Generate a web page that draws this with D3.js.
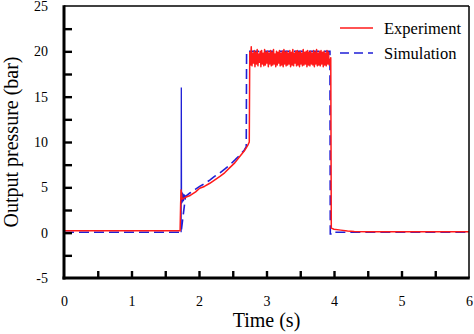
<!DOCTYPE html>
<html>
<head>
<meta charset="utf-8">
<script src="https://cdn.jsdelivr.net/npm/d3@7/dist/d3.min.js"></script>
<style>
  html, body { margin: 0; padding: 0; background: #fff; }
  svg { display: block; }
  svg text { font-family: "Liberation Serif", "Times New Roman", serif; }
</style>
</head>
<body>
<svg id="chart" width="474" height="334"></svg>
<script>
// Axis ranges and tick labels
const xDomain = [0, 6];
const yDomain = [-5, 25];
const xTickLabels = [0, 1, 2, 3, 4, 5, 6];
const yTickLabels = [-5, 0, 5, 10, 15, 20, 25];
const xMinorTicks = [0.5, 1, 1.5, 2, 2.5, 3, 3.5, 4, 4.5, 5, 5.5];
const yMinorTicks = [-2.5, 0, 2.5, 5, 7.5, 10, 12.5, 15, 17.5, 20, 22.5];

// Measured output pressure (bar): ramp section
const expTime = [0, 1.72, 1.728, 1.735, 1.75, 1.8, 1.87, 1.95, 2.01, 2.08, 2.16, 2.23, 2.31, 2.38, 2.46, 2.53, 2.61, 2.67, 2.72, 2.745];
const expValue = [0.2, 0.2, 3.2, 4.7, 3.7, 3.9, 4.1, 4.5, 4.9, 5.1, 5.45, 5.8, 6.2, 6.6, 7.2, 7.7, 8.45, 9.0, 9.6, 10.0];

// Measured output pressure: noisy plateau, sampled every plateauStep seconds
const plateauStart = 2.752;
const plateauStep = 0.011;
const plateauValue = [
  19.9, 18.5, 20.5, 18.4, 19.8, 18.7, 20.1, 18.3, 19.9, 18.6, 20.2, 18.4, 19.7, 18.8, 20.0, 18.3,
  20.1, 18.6, 19.8, 18.4, 20.2, 18.5, 19.9, 18.7, 20.0, 18.3, 19.8, 18.6, 20.1, 18.4, 19.9, 18.5,
  20.2, 18.6, 19.7, 18.3, 20.0, 18.5, 19.9, 18.7, 20.1, 18.4, 19.8, 18.5, 20.0, 18.3, 20.2, 18.6,
  19.9, 18.4, 20.0, 18.5, 19.8, 18.6, 20.1, 18.3, 19.9, 18.5, 20.2, 18.4, 19.8, 18.7, 20.0, 18.4,
  20.1, 18.5, 19.9, 18.3, 20.0, 18.6, 19.8, 18.4, 20.2, 18.5, 19.9, 18.6, 20.0, 18.3, 20.1, 18.5,
  19.9, 18.4, 20.0, 18.6, 19.8, 18.5, 20.1, 18.3, 19.9, 18.6, 20.2, 18.4, 19.8, 18.5, 20.0, 18.4,
  20.1, 18.6, 19.9, 18.3, 20.0, 18.5, 19.8, 18.4, 20.1, 18.6, 19.9, 18.5
];

// Measured output pressure: release section
const relTime = [3.952, 3.96, 4.0, 4.1, 4.2, 4.3, 4.5, 5.0, 6.0];
const relValue = [19.3, 0.5, 0.38, 0.28, 0.18, 0.12, 0.1, 0.1, 0.1];

// Simulated output pressure (bar)
const simTime = [0, 1.735, 1.8, 1.87, 1.95, 2.01, 2.08, 2.16, 2.23, 2.31, 2.38, 2.46, 2.53, 2.61, 2.67, 2.70, 2.705, 3.94, 3.945, 3.99, 4.0, 6.0];
const simValue = [0.05, 0.05, 4.0, 4.4, 4.8, 5.1, 5.4, 5.8, 6.2, 6.6, 7.0, 7.5, 8.0, 8.6, 9.1, 9.5, 20.0, 20.0, -0.15, -0.15, 0.05, 0.05];

// Simulated valve-opening transient (spike and ringing)
const spikeTime = [1.735, 1.738, 1.741, 1.745, 1.75, 1.755, 1.76, 1.765, 1.77, 1.775, 1.78, 1.79, 1.80];
const spikeValue = [0.05, 16.0, 3.2, 4.5, 3.3, 4.4, 3.4, 4.3, 3.5, 4.2, 3.7, 4.1, 4.0];

const seriesNames = ["Experiment", "Simulation"];
const seriesColors = ["#ff1a1a", "#1f1fd6"];

const svg = d3.select("#chart");
const m = { left: 64, right: 469, top: 6, bottom: 278 };

const x = d3.scaleLinear().domain(xDomain).range([m.left, m.right]);
const y = d3.scaleLinear().domain(yDomain).range([m.bottom, m.top]);

const line = d3.line().x(d => x(d[0])).y(d => y(d[1]));

// Assemble the measured trace
const expPoints = expTime.map((t, i) => [t, expValue[i]])
  .concat(plateauValue.map((v, i) => [plateauStart + i * plateauStep, v]))
  .concat(relTime.map((t, i) => [t, relValue[i]]));
const simPoints = simTime.map((t, i) => [t, simValue[i]]);
const spikePoints = spikeTime.map((t, i) => [t, spikeValue[i]]);

const plot = svg.append("g");

plot.append("path")
  .attr("d", line(spikePoints))
  .attr("fill", "none")
  .attr("stroke", seriesColors[1])
  .attr("stroke-width", 1.3);

plot.append("path")
  .attr("d", line(simPoints))
  .attr("fill", "none")
  .attr("stroke", seriesColors[1])
  .attr("stroke-width", 1.6)
  .attr("stroke-dasharray", "10,5");

plot.append("path")
  .attr("d", line(expPoints))
  .attr("fill", "none")
  .attr("stroke", seriesColors[0])
  .attr("stroke-width", 1.5)
  .attr("stroke-linejoin", "round");

// Frame: heavy left/bottom, lighter top/right
svg.append("line").attr("x1", m.left).attr("x2", m.right).attr("y1", m.top).attr("y2", m.top)
  .attr("stroke", "#000").attr("stroke-width", 1.5);
svg.append("line").attr("x1", m.right).attr("x2", m.right).attr("y1", m.top).attr("y2", m.bottom)
  .attr("stroke", "#000").attr("stroke-width", 1.5);

const fmt = d => String(d);

// Bottom axis with inward ticks
const xAxis = d3.axisBottom(x).tickValues(xMinorTicks).tickSize(-7).tickFormat("");
const gx = svg.append("g").attr("transform", `translate(0,${m.bottom})`).call(xAxis);
gx.select(".domain").remove();
gx.selectAll(".tick line").attr("stroke", "#000").attr("stroke-width", 2.4);
svg.append("line").attr("x1", m.left - 1.5).attr("x2", m.right + 0.75).attr("y1", m.bottom).attr("y2", m.bottom)
  .attr("stroke", "#000").attr("stroke-width", 3);

const gxl = svg.append("g").attr("transform", `translate(0,${m.bottom})`)
  .call(d3.axisBottom(x).tickValues(xTickLabels).tickSize(0).tickPadding(18).tickFormat(fmt));
gxl.select(".domain").remove();
gxl.selectAll("text")
  .style("font-family", "'Liberation Serif', serif").style("font-size", "14px").attr("fill", "#000");

// Left axis with inward ticks
const yAxis = d3.axisLeft(y).tickValues(yMinorTicks).tickSize(-8).tickFormat("");
const gy = svg.append("g").attr("transform", `translate(${m.left},0)`).call(yAxis);
gy.select(".domain").remove();
gy.selectAll(".tick line").attr("stroke", "#000").attr("stroke-width", 2.4);
svg.append("line").attr("x1", m.left).attr("x2", m.left).attr("y1", m.top - 0.75).attr("y2", m.bottom + 1.5)
  .attr("stroke", "#000").attr("stroke-width", 3);

const gyl = svg.append("g").attr("transform", `translate(${m.left},0)`)
  .call(d3.axisLeft(y).tickValues(yTickLabels).tickSize(0).tickPadding(16).tickFormat(fmt));
gyl.select(".domain").remove();
gyl.selectAll("text")
  .style("font-family", "'Liberation Serif', serif").style("font-size", "14px").attr("fill", "#000");

// Axis titles
svg.append("text")
  .attr("x", (m.left + m.right) / 2).attr("y", 327)
  .attr("text-anchor", "middle")
  .style("font-size", "20px").attr("fill", "#000")
  .text("Time (s)");

svg.append("text")
  .attr("transform", `translate(18,142) rotate(-90)`)
  .attr("text-anchor", "middle")
  .style("font-size", "20px").attr("fill", "#000")
  .text("Output pressure (bar)");

// Legend
const legend = svg.append("g");
const legendY = [28, 53];
seriesNames.forEach((name, i) => {
  legend.append("line")
    .attr("x1", 340).attr("x2", 373).attr("y1", legendY[i]).attr("y2", legendY[i])
    .attr("stroke", seriesColors[i]).attr("stroke-width", 1.6)
    .attr("stroke-dasharray", i === 1 ? "9,5" : null);
  legend.append("text")
    .attr("x", 384).attr("y", legendY[i] + 5.5)
    .style("font-size", "16.5px").attr("fill", "#000")
    .text(name);
});
</script>
</body>
</html>
